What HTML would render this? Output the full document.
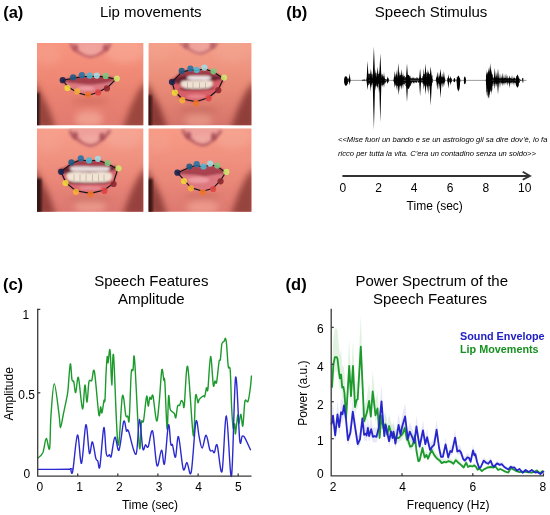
<!DOCTYPE html>
<html><head><meta charset="utf-8"><title>Figure</title>
<style>
html,body{margin:0;padding:0;background:#fff;}
svg{display:block;font-family:"Liberation Sans",Arial,Helvetica,sans-serif;}
</style></head>
<body>
<svg width="550" height="515" viewBox="0 0 550 515">
<rect width="550" height="515" fill="#fff"/>
<defs>
<filter id="blurBig" x="-30%" y="-30%" width="160%" height="160%"><feGaussianBlur stdDeviation="3"/></filter>
<filter id="blurMid" x="-30%" y="-30%" width="160%" height="160%"><feGaussianBlur stdDeviation="1.4"/></filter>
<filter id="blurSmall" x="-20%" y="-20%" width="140%" height="140%"><feGaussianBlur stdDeviation="0.8"/></filter>
<filter id="blurTiny" x="-50%" y="-20%" width="200%" height="140%"><feGaussianBlur stdDeviation="0.4"/></filter>
<linearGradient id="skin0" x1="0" y1="0" x2="0" y2="1"><stop offset="0" stop-color="#f89680"/><stop offset="0.55" stop-color="#ec8472"/><stop offset="1" stop-color="#e07a70"/></linearGradient>
<linearGradient id="skin1" x1="0" y1="0" x2="0" y2="1"><stop offset="0" stop-color="#f6a08a"/><stop offset="0.55" stop-color="#e88a76"/><stop offset="1" stop-color="#d4726a"/></linearGradient>
<linearGradient id="skin2" x1="0" y1="0" x2="0" y2="1"><stop offset="0" stop-color="#f8a08c"/><stop offset="0.55" stop-color="#ec8a7a"/><stop offset="1" stop-color="#da7670"/></linearGradient>
<linearGradient id="skin3" x1="0" y1="0" x2="0" y2="1"><stop offset="0" stop-color="#f89c86"/><stop offset="0.55" stop-color="#ec8a7a"/><stop offset="1" stop-color="#dc7870"/></linearGradient>
</defs>
<clipPath id="clip0"><rect x="37" y="43" width="106.3" height="82.3"/></clipPath>
<g clip-path="url(#clip0)">
<g transform="translate(37 43)">
<rect x="-2" y="-2" width="110.3" height="86.3" fill="url(#skin0)"/>
<g filter="url(#blurBig)"><path d="M-4.0 37.0 L4.0 49.4 L12.0 65.8 L19.0 86.3 L-4.0 86.3 Z" fill="#944038" opacity="0.95"/><path d="M110.3 37.0 L101.3 47.7 L93.3 64.2 L85.3 86.3 L110.3 86.3 Z" fill="#944038" opacity="0.9"/><ellipse cx="88" cy="8" rx="20" ry="12" fill="#f8b4a2" opacity="0.45"/><ellipse cx="52" cy="76" rx="14" ry="8" fill="#f8b4a2" opacity="0.6"/><ellipse cx="10" cy="12" rx="14" ry="10" fill="#f8b4a2" opacity="0.25"/><ellipse cx="53" cy="58" rx="20" ry="3.5" fill="#c0604e" opacity="0.45"/></g>
<path d="M33.4 -10 L33.4 0  C34.1 1.1 34.1 4.2 37.5 6.5 C40.9 8.8 48.2 13.6 53.5 13.6 C58.8 13.6 66.2 8.8 69.5 6.5 C72.8 4.2 72.6 1.1 73.2 0.0 L73.2 -10 Z" fill="#f0a09a" filter="url(#blurMid)"/>
<path d="M33.4 0.0 C34.1 1.1 34.1 4.2 37.5 6.5 C40.9 8.8 48.2 13.6 53.5 13.6 C58.8 13.6 66.2 8.8 69.5 6.5 C72.8 4.2 72.6 1.1 73.2 0.0" stroke="#b0505c" stroke-width="2.6" fill="none" filter="url(#blurMid)" opacity="0.85"/>
<ellipse cx="53.5" cy="7.6" rx="9" ry="5" fill="#f2aca6" filter="url(#blurMid)" opacity="0.4"/>
<ellipse cx="38.5" cy="4.5" rx="2.6" ry="3.6" fill="#b0505c" filter="url(#blurMid)" opacity="0.85"/>
<ellipse cx="68.5" cy="4.5" rx="2.6" ry="3.6" fill="#b0505c" filter="url(#blurMid)" opacity="0.85"/>
<path d="M31.4 8.5 Q19.5 23.799999999999997 20.5 45.8" stroke="#c0604e" stroke-width="3" fill="none" opacity="0.0" filter="url(#blurMid)"/>
<path d="M75.2 8.5 Q85.5 22 84.5 44" stroke="#c0604e" stroke-width="3" fill="none" opacity="0.0" filter="url(#blurMid)"/>
<g filter="url(#blurSmall)"><path d="M25.5 37.8 C26.3 36.2 31.8 35.4 35.0 34.6 C38.2 33.8 41.6 33.3 44.5 33.2 C47.4 33.1 49.9 34.0 52.5 34.0 C55.1 34.0 57.2 33.5 60.0 33.4 C62.8 33.3 65.8 33.2 69.0 33.6 C72.2 34.0 79.2 34.1 79.5 36.0 C79.8 37.9 74.1 42.7 71.0 45.0 C67.9 47.3 64.3 48.8 61.0 50.0 C57.7 51.2 54.5 52.3 51.0 52.2 C47.5 52.1 43.5 50.9 40.0 49.5 C36.5 48.1 32.4 46.0 30.0 44.0 C27.6 42.0 24.7 39.4 25.5 37.8 Z" fill="#dc7880"/><path d="M25.5 37.8 C25.5 37.0 31.8 35.4 35.0 34.6 C38.2 33.8 41.6 33.3 44.5 33.2 C47.4 33.1 49.9 34.0 52.5 34.0 C55.1 34.0 57.2 33.5 60.0 33.4 C62.8 33.3 65.8 33.2 69.0 33.6 C72.2 34.0 79.5 35.1 79.5 36.0 C79.5 36.9 73.5 38.2 69.0 39.0 C64.5 39.8 58.2 40.8 52.5 40.8 C46.8 40.8 39.5 39.7 35.0 39.2 C30.5 38.7 25.5 38.6 25.5 37.8 Z" fill="#a63e4c"/><path d="M25.5 37.8 C27.1 38.0 30.5 38.7 35.0 39.2 C39.5 39.7 46.8 40.8 52.5 40.8 C58.2 40.8 64.5 39.8 69.0 39.0 C73.5 38.2 77.8 36.5 79.5 36.0" stroke="#9a3c48" stroke-width="1.4" fill="none"/><ellipse cx="49" cy="45.5" rx="9" ry="2.2" fill="#f4aab0" opacity="0.7"/></g>
<rect x="-2" y="50" width="4.4" height="82.3" fill="#2a1414" filter="url(#blurSmall)"/>
<path d="M25.7 37.2 L36.5 35.2 L45.0 33.8 L52.7 33.4 L59.8 33.4 L68.5 33.9 L78.8 36.3 L71.0 44.0 L61.0 49.2 L51.0 52.6 L40.5 49.8 L30.5 43.5 Z" fill="none" stroke="#121212" stroke-width="1.1" stroke-linejoin="round"/>
<circle cx="25.7" cy="37.2" r="3.1" fill="#18224e" fill-opacity="0.9"/>
<circle cx="36.1" cy="34.3" r="3.1" fill="#1e5a84" fill-opacity="0.9"/>
<circle cx="44.9" cy="32.2" r="3.1" fill="#2872a4" fill-opacity="0.9"/>
<circle cx="52.7" cy="32.6" r="3.1" fill="#50b6d2" fill-opacity="0.9"/>
<circle cx="59.8" cy="32.6" r="3.1" fill="#a2dce6" fill-opacity="0.9"/>
<circle cx="68.7" cy="32.9" r="3.1" fill="#80c882" fill-opacity="0.9"/>
<circle cx="79.8" cy="35.5" r="3.1" fill="#d4e870" fill-opacity="0.9"/>
<circle cx="69.9" cy="45.4" r="3.1" fill="#8e2830" fill-opacity="0.9"/>
<circle cx="61.2" cy="49.4" r="3.1" fill="#e04444" fill-opacity="0.9"/>
<circle cx="51.0" cy="51.5" r="3.1" fill="#f07428" fill-opacity="0.9"/>
<circle cx="40.2" cy="48.3" r="3.1" fill="#f6b036" fill-opacity="0.9"/>
<circle cx="30.5" cy="45.0" r="3.1" fill="#f2d838" fill-opacity="0.9"/>
</g></g>
<clipPath id="clip1"><rect x="148.6" y="43" width="102.8" height="82.3"/></clipPath>
<g clip-path="url(#clip1)">
<g transform="translate(148.6 43)">
<rect x="-2" y="-2" width="106.8" height="86.3" fill="url(#skin1)"/>
<g filter="url(#blurBig)"><path d="M-4.0 37.0 L4.0 49.4 L12.0 65.8 L19.0 86.3 L-4.0 86.3 Z" fill="#883634" opacity="0.95"/><path d="M106.8 37.0 L97.8 47.7 L89.8 64.2 L81.8 86.3 L106.8 86.3 Z" fill="#883634" opacity="0.9"/><ellipse cx="84" cy="8" rx="18" ry="12" fill="#f0a896" opacity="0.4"/><ellipse cx="50" cy="78" rx="14" ry="7" fill="#f0a896" opacity="0.55"/><ellipse cx="10" cy="10" rx="12" ry="10" fill="#f0a896" opacity="0.2"/><ellipse cx="50" cy="67" rx="20" ry="3.5" fill="#b0564a" opacity="0.4"/></g>
<path d="M31.2 -11 L31.2 -1  C32.1 -0.2 33.3 1.9 36.7 3.8 C40.1 5.7 46.7 10.4 51.4 10.4 C56.1 10.4 62.0 5.7 65.0 3.8 C68.0 1.9 68.7 -0.2 69.4 -1.0 L69.4 -11 Z" fill="#eea098" filter="url(#blurMid)"/>
<path d="M31.2 -1.0 C32.1 -0.2 33.3 1.9 36.7 3.8 C40.1 5.7 46.7 10.4 51.4 10.4 C56.1 10.4 62.0 5.7 65.0 3.8 C68.0 1.9 68.7 -0.2 69.4 -1.0" stroke="#b25a64" stroke-width="2.2" fill="none" filter="url(#blurMid)" opacity="0.85"/>
<ellipse cx="51.4" cy="4.4" rx="9" ry="5" fill="#f0a8a0" filter="url(#blurMid)" opacity="0.4"/>
<ellipse cx="37.7" cy="1.7999999999999998" rx="2.6" ry="3.6" fill="#b25a64" filter="url(#blurMid)" opacity="0.85"/>
<ellipse cx="64.0" cy="1.7999999999999998" rx="2.6" ry="3.6" fill="#b25a64" filter="url(#blurMid)" opacity="0.85"/>
<path d="M29.2 5.8 Q16.9 25.5 17.9 47.5" stroke="#b0564a" stroke-width="3" fill="none" opacity="0.0" filter="url(#blurMid)"/>
<path d="M71.4 5.8 Q81.4 21.5 80.4 43.5" stroke="#b0564a" stroke-width="3" fill="none" opacity="0.0" filter="url(#blurMid)"/>
<g filter="url(#blurSmall)"><path d="M22.9 39.5 C23.9 36.2 28.8 31.6 31.9 29.5 C35.0 27.4 38.6 27.2 41.4 27.0 C44.1 26.8 46.0 28.3 48.4 28.2 C50.8 28.1 53.1 26.3 55.9 26.5 C58.7 26.7 62.2 28.0 65.4 29.5 C68.7 31.0 74.7 32.7 75.4 35.5 C76.2 38.3 72.5 43.2 69.9 46.5 C67.3 49.8 63.6 52.8 59.9 55.0 C56.1 57.2 51.8 59.2 47.4 59.5 C43.0 59.8 37.0 58.2 33.4 56.5 C29.8 54.8 27.6 51.8 25.9 49.0 C24.1 46.2 21.9 42.8 22.9 39.5 Z" fill="#d85e68"/><path d="M22.9 39.5 C23.0 38.9 28.8 31.6 31.9 29.5 C35.0 27.4 38.6 27.2 41.4 27.0 C44.1 26.8 46.0 28.3 48.4 28.2 C50.8 28.1 53.1 26.3 55.9 26.5 C58.7 26.7 62.2 28.0 65.4 29.5 C68.7 31.0 75.4 34.9 75.4 35.5 C75.4 36.1 69.9 33.5 65.4 33.0 C60.9 32.5 54.1 32.5 48.4 32.5 C42.7 32.5 35.6 32.0 31.4 33.2 C27.1 34.4 22.8 40.1 22.9 39.5 Z" fill="#a03a48"/><path d="M22.9 39.5 C17.2 37.6 27.1 34.4 31.4 33.2 C35.6 32.0 42.7 32.5 48.4 32.5 C54.1 32.5 60.9 32.5 65.4 33.0 C69.9 33.5 81.1 33.4 75.4 35.5 C69.7 37.6 35.9 43.5 31.4 45.5 C26.9 47.5 42.7 47.7 48.4 47.5 C54.1 47.3 69.7 45.8 65.4 44.5 C61.2 43.2 28.6 41.4 22.9 39.5 Z" fill="#6c2232"/><path d="M39.4 33.4 C41.1 32.8 46.7 32.8 50.4 32.8 C54.1 32.8 59.6 32.8 61.4 33.4 C63.1 34.0 62.7 35.8 60.9 36.4 C59.1 37.0 53.9 37.0 50.4 37.0 C46.9 37.0 41.7 37.0 39.9 36.4 C38.1 35.8 37.6 34.0 39.4 33.4 Z" fill="#eae0e0"/><path d="M33.4 38.2 C35.5 37.0 42.5 37.6 47.4 37.6 C52.3 37.6 60.6 36.8 62.9 38.0 C65.2 39.2 64.0 43.3 61.4 44.6 C58.8 45.9 51.8 45.8 47.4 45.8 C43.0 45.8 37.2 45.9 34.9 44.6 C32.6 43.3 31.3 39.4 33.4 38.2 Z" fill="#eee2d4"/><ellipse cx="48" cy="53.5" rx="10" ry="2.2" fill="#f0a4aa" opacity="0.55"/></g>
<path d="M38.900000000000006 39.5 V45" stroke="#a88078" stroke-width="0.8" opacity="0.55"/>
<path d="M44.400000000000006 39.5 V45" stroke="#a88078" stroke-width="0.8" opacity="0.55"/>
<path d="M50.900000000000006 39.5 V45" stroke="#a88078" stroke-width="0.8" opacity="0.55"/>
<path d="M56.900000000000006 39.5 V45" stroke="#a88078" stroke-width="0.8" opacity="0.55"/>
<rect x="-2" y="52" width="5" height="82.3" fill="#361818" filter="url(#blurSmall)"/>
<path d="M23.4 39.1 L33.1 29.2 L41.8 26.9 L48.1 27.5 L55.8 25.8 L64.9 29.0 L74.9 35.5 L69.7 46.5 L60.1 54.5 L47.5 58.8 L33.7 56.0 L26.3 48.5 Z" fill="none" stroke="#121212" stroke-width="1.1" stroke-linejoin="round"/>
<circle cx="23.4" cy="39.1" r="3.1" fill="#18224e" fill-opacity="0.9"/>
<circle cx="33.1" cy="27.9" r="3.1" fill="#1e5a84" fill-opacity="0.9"/>
<circle cx="41.8" cy="25.6" r="3.1" fill="#2872a4" fill-opacity="0.9"/>
<circle cx="48.1" cy="26.9" r="3.1" fill="#50b6d2" fill-opacity="0.9"/>
<circle cx="55.8" cy="24.6" r="3.1" fill="#a2dce6" fill-opacity="0.9"/>
<circle cx="64.9" cy="28.3" r="3.1" fill="#80c882" fill-opacity="0.9"/>
<circle cx="75.5" cy="34.6" r="3.1" fill="#d4e870" fill-opacity="0.9"/>
<circle cx="69.7" cy="47.2" r="3.1" fill="#8e2830" fill-opacity="0.9"/>
<circle cx="60.1" cy="55.3" r="3.1" fill="#e04444" fill-opacity="0.9"/>
<circle cx="47.5" cy="60.3" r="3.1" fill="#f07428" fill-opacity="0.9"/>
<circle cx="33.7" cy="57.2" r="3.1" fill="#f6b036" fill-opacity="0.9"/>
<circle cx="26.3" cy="49.7" r="3.1" fill="#f2d838" fill-opacity="0.9"/>
</g></g>
<clipPath id="clip2"><rect x="37" y="128.6" width="106.3" height="83.1"/></clipPath>
<g clip-path="url(#clip2)">
<g transform="translate(37 128.6)">
<rect x="-2" y="-2" width="110.3" height="87.1" fill="url(#skin2)"/>
<g filter="url(#blurBig)"><path d="M-4.0 37.4 L4.0 49.9 L12.0 66.5 L19.0 87.1 L-4.0 87.1 Z" fill="#8e3c36" opacity="0.95"/><path d="M110.3 37.4 L101.3 48.2 L93.3 64.8 L85.3 87.1 L110.3 87.1 Z" fill="#8e3c36" opacity="0.9"/><ellipse cx="86" cy="8" rx="18" ry="12" fill="#f6b0a0" opacity="0.4"/><ellipse cx="53" cy="78" rx="16" ry="7" fill="#f6b0a0" opacity="0.55"/><ellipse cx="12" cy="14" rx="12" ry="10" fill="#f6b0a0" opacity="0.2"/><ellipse cx="53" cy="71" rx="22" ry="3.5" fill="#b45a4c" opacity="0.4"/></g>
<path d="M32.8 -8.1 L32.8 1.9  C33.5 3.0 33.8 6.2 37.2 8.7 C40.7 11.2 48.7 16.6 53.5 16.8 C58.3 17.0 62.8 12.3 66.1 9.8 C69.4 7.3 72.0 3.2 73.2 1.9 L73.2 -8.1 Z" fill="#eea09a" filter="url(#blurMid)"/>
<path d="M32.8 1.9 C33.5 3.0 33.8 6.2 37.2 8.7 C40.7 11.2 48.7 16.6 53.5 16.8 C58.3 17.0 62.8 12.3 66.1 9.8 C69.4 7.3 72.0 3.2 73.2 1.9" stroke="#a44a56" stroke-width="2.6" fill="none" filter="url(#blurMid)" opacity="0.85"/>
<ellipse cx="53.5" cy="10.8" rx="9" ry="5" fill="#f4b4ac" filter="url(#blurMid)" opacity="0.4"/>
<ellipse cx="38.2" cy="6.699999999999999" rx="2.6" ry="3.6" fill="#a44a56" filter="url(#blurMid)" opacity="0.85"/>
<ellipse cx="65.1" cy="7.800000000000001" rx="2.6" ry="3.6" fill="#a44a56" filter="url(#blurMid)" opacity="0.85"/>
<path d="M30.799999999999997 10.7 Q17.5 29.6 18.5 51.6" stroke="#b45a4c" stroke-width="3" fill="none" opacity="0.0" filter="url(#blurMid)"/>
<path d="M75.2 11.8 Q87 26.200000000000003 86 48.2" stroke="#b45a4c" stroke-width="3" fill="none" opacity="0.0" filter="url(#blurMid)"/>
<g filter="url(#blurSmall)"><path d="M23.5 43.6 C24.3 40.5 30.2 37.1 33.5 35.0 C36.8 32.9 40.4 31.6 43.5 31.2 C46.6 30.8 49.1 32.8 52.0 32.8 C54.9 32.8 57.8 31.0 61.0 31.4 C64.2 31.8 67.7 33.9 71.0 35.4 C74.3 36.9 80.1 37.0 81.0 40.2 C81.9 43.5 78.8 51.3 76.5 54.9 C74.2 58.5 70.8 60.1 67.0 61.9 C63.2 63.6 58.2 65.2 53.5 65.4 C48.8 65.6 43.2 64.8 39.0 62.9 C34.8 61.0 31.1 57.1 28.5 53.9 C25.9 50.7 22.7 46.8 23.5 43.6 Z" fill="#d86870"/><path d="M23.5 43.6 C23.6 43.1 30.2 37.1 33.5 35.0 C36.8 32.9 40.4 31.6 43.5 31.2 C46.6 30.8 49.1 32.8 52.0 32.8 C54.9 32.8 57.8 31.0 61.0 31.4 C64.2 31.8 67.7 33.9 71.0 35.4 C74.3 36.9 80.8 39.8 81.0 40.2 C81.2 40.6 76.8 38.4 72.0 37.9 C67.2 37.4 58.5 37.4 52.0 37.4 C45.5 37.4 37.8 36.9 33.0 37.9 C28.2 38.9 23.4 44.1 23.5 43.6 Z" fill="#a63e4c"/><path d="M23.5 43.6 C16.8 41.0 28.2 38.9 33.0 37.9 C37.8 36.9 45.5 37.4 52.0 37.4 C58.5 37.4 67.2 37.4 72.0 37.9 C76.8 38.4 87.8 37.6 81.0 40.2 C74.2 42.8 35.8 50.9 31.0 53.4 C26.2 55.9 45.0 55.4 52.0 55.4 C59.0 55.4 77.8 55.4 73.0 53.4 C68.2 51.4 30.2 46.2 23.5 43.6 Z" fill="#6e2434"/><path d="M35.0 38.2 C37.9 37.4 47.0 37.8 53.0 37.8 C59.0 37.8 68.1 37.6 71.0 38.4 C73.9 39.2 73.5 41.6 70.5 42.4 C67.5 43.2 58.8 43.0 53.0 43.0 C47.2 43.0 38.5 43.2 35.5 42.4 C32.5 41.6 32.1 39.0 35.0 38.2 Z" fill="#e6dcdc"/><path d="M31.5 44.2 C34.7 42.8 45.1 43.8 52.0 43.8 C58.9 43.8 69.7 42.8 73.0 44.2 C76.3 45.6 75.5 50.8 72.0 52.4 C68.5 54.0 58.5 53.8 52.0 53.8 C45.5 53.8 36.4 54.0 33.0 52.4 C29.6 50.8 28.3 45.6 31.5 44.2 Z" fill="#f0e4d4"/><ellipse cx="53" cy="59.5" rx="12" ry="2.2" fill="#f2a8ae" opacity="0.55"/></g>
<path d="M37 45.900000000000006 V52.400000000000006" stroke="#a88078" stroke-width="0.8" opacity="0.55"/>
<path d="M43 45.900000000000006 V52.400000000000006" stroke="#a88078" stroke-width="0.8" opacity="0.55"/>
<path d="M49 45.900000000000006 V52.400000000000006" stroke="#a88078" stroke-width="0.8" opacity="0.55"/>
<path d="M55.5 45.900000000000006 V52.400000000000006" stroke="#a88078" stroke-width="0.8" opacity="0.55"/>
<path d="M61.5 45.900000000000006 V52.400000000000006" stroke="#a88078" stroke-width="0.8" opacity="0.55"/>
<path d="M67 45.900000000000006 V52.400000000000006" stroke="#a88078" stroke-width="0.8" opacity="0.55"/>
<rect x="-2" y="50" width="6.5" height="83.1" fill="#341618" filter="url(#blurSmall)"/>
<path d="M24.1 43.2 L34.4 35.0 L43.8 31.2 L52.0 32.6 L60.9 31.4 L70.7 35.4 L80.8 40.4 L76.2 54.8 L67.4 61.4 L53.6 64.8 L38.9 62.2 L28.8 53.9 Z" fill="none" stroke="#121212" stroke-width="1.1" stroke-linejoin="round"/>
<circle cx="24.1" cy="43.2" r="3.1" fill="#18224e" fill-opacity="0.9"/>
<circle cx="34.4" cy="33.8" r="3.1" fill="#1e5a84" fill-opacity="0.9"/>
<circle cx="43.8" cy="29.8" r="3.1" fill="#2872a4" fill-opacity="0.9"/>
<circle cx="52.0" cy="31.8" r="3.1" fill="#50b6d2" fill-opacity="0.9"/>
<circle cx="60.9" cy="30.2" r="3.1" fill="#a2dce6" fill-opacity="0.9"/>
<circle cx="70.7" cy="34.4" r="3.1" fill="#80c882" fill-opacity="0.9"/>
<circle cx="81.5" cy="39.7" r="3.1" fill="#d4e870" fill-opacity="0.9"/>
<circle cx="76.6" cy="55.4" r="3.1" fill="#8e2830" fill-opacity="0.9"/>
<circle cx="67.4" cy="62.3" r="3.1" fill="#e04444" fill-opacity="0.9"/>
<circle cx="53.6" cy="65.6" r="3.1" fill="#f07428" fill-opacity="0.9"/>
<circle cx="38.9" cy="63.2" r="3.1" fill="#f6b036" fill-opacity="0.9"/>
<circle cx="28.5" cy="54.4" r="3.1" fill="#f2d838" fill-opacity="0.9"/>
</g></g>
<clipPath id="clip3"><rect x="148.6" y="128.6" width="102.8" height="83.1"/></clipPath>
<g clip-path="url(#clip3)">
<g transform="translate(148.6 128.6)">
<rect x="-2" y="-2" width="106.8" height="87.1" fill="url(#skin3)"/>
<g filter="url(#blurBig)"><path d="M-4.0 37.4 L4.0 49.9 L12.0 66.5 L19.0 87.1 L-4.0 87.1 Z" fill="#8e3e38" opacity="0.95"/><path d="M106.8 37.4 L97.8 48.2 L89.8 64.8 L81.8 87.1 L106.8 87.1 Z" fill="#8e3e38" opacity="0.9"/><ellipse cx="84" cy="8" rx="18" ry="12" fill="#f6b0a0" opacity="0.4"/><ellipse cx="54" cy="79" rx="16" ry="7" fill="#f6b0a0" opacity="0.55"/><ellipse cx="10" cy="14" rx="12" ry="10" fill="#f6b0a0" opacity="0.2"/><ellipse cx="54" cy="68" rx="18" ry="3.5" fill="#b45a4c" opacity="0.4"/></g>
<path d="M33.9 -9.1 L33.9 0.9  C34.7 2.2 35.4 6.1 38.8 8.7 C42.2 11.3 49.6 16.1 54.1 16.3 C58.6 16.5 63.0 12.2 66.1 9.8 C69.2 7.4 71.6 3.2 72.7 1.9 L72.7 -8.1 Z" fill="#eea09a" filter="url(#blurMid)"/>
<path d="M33.9 0.9 C34.7 2.2 35.4 6.1 38.8 8.7 C42.2 11.3 49.6 16.1 54.1 16.3 C58.6 16.5 63.0 12.2 66.1 9.8 C69.2 7.4 71.6 3.2 72.7 1.9" stroke="#a44a56" stroke-width="2.6" fill="none" filter="url(#blurMid)" opacity="0.85"/>
<ellipse cx="54.1" cy="10.3" rx="9" ry="5" fill="#f4b4ac" filter="url(#blurMid)" opacity="0.4"/>
<ellipse cx="39.8" cy="6.699999999999999" rx="2.6" ry="3.6" fill="#a44a56" filter="url(#blurMid)" opacity="0.85"/>
<ellipse cx="65.1" cy="7.800000000000001" rx="2.6" ry="3.6" fill="#a44a56" filter="url(#blurMid)" opacity="0.85"/>
<path d="M31.9 10.7 Q22.4 30.6 23.4 52.6" stroke="#b45a4c" stroke-width="3" fill="none" opacity="0.0" filter="url(#blurMid)"/>
<path d="M74.7 11.8 Q83.4 29.9 82.4 51.9" stroke="#b45a4c" stroke-width="3" fill="none" opacity="0.0" filter="url(#blurMid)"/>
<g filter="url(#blurSmall)"><path d="M28.4 44.6 C29.2 42.4 37.1 40.3 40.4 39.0 C43.6 37.7 45.5 36.8 47.9 36.8 C50.3 36.8 52.6 38.9 54.9 38.8 C57.2 38.7 59.6 36.5 61.9 36.4 C64.2 36.3 66.3 36.8 68.9 38.0 C71.5 39.2 76.9 41.5 77.4 43.9 C77.9 46.3 74.1 49.7 71.9 52.4 C69.7 55.1 67.3 58.2 64.4 60.0 C61.5 61.8 58.1 63.1 54.4 63.0 C50.7 62.9 45.5 61.2 42.4 59.4 C39.3 57.6 38.0 54.5 35.7 52.0 C33.4 49.5 27.6 46.8 28.4 44.6 Z" fill="#de7880"/><path d="M28.4 44.6 C27.6 43.6 37.1 40.3 40.4 39.0 C43.6 37.7 45.5 36.8 47.9 36.8 C50.3 36.8 52.6 38.9 54.9 38.8 C57.2 38.7 59.6 36.5 61.9 36.4 C64.2 36.3 66.3 36.8 68.9 38.0 C71.5 39.2 77.2 42.8 77.4 43.9 C77.7 45.0 73.8 43.9 70.4 44.4 C67.0 44.9 61.1 46.6 56.9 46.7 C52.7 46.8 49.8 45.6 45.0 45.2 C40.2 44.9 29.2 45.6 28.4 44.6 Z" fill="#aa4250"/><path d="M28.4 44.6 C31.2 44.7 40.2 44.9 45.0 45.2 C49.8 45.6 52.7 46.8 56.9 46.7 C61.1 46.6 67.0 44.9 70.4 44.4 C73.8 43.9 76.2 44.0 77.4 43.9" stroke="#963a48" stroke-width="1.4" fill="none"/><ellipse cx="50" cy="51.5" rx="11" ry="3" fill="#f6b0b6" opacity="0.6"/></g>
<rect x="-2" y="50" width="6" height="83.1" fill="#381818" filter="url(#blurSmall)"/>
<path d="M28.8 44.1 L40.8 39.0 L48.1 36.7 L54.9 38.6 L61.6 36.1 L68.7 37.8 L77.0 43.9 L71.8 52.0 L64.5 59.6 L54.3 62.7 L42.3 59.0 L35.8 51.8 Z" fill="none" stroke="#121212" stroke-width="1.1" stroke-linejoin="round"/>
<circle cx="28.8" cy="44.1" r="3.1" fill="#18224e" fill-opacity="0.9"/>
<circle cx="40.8" cy="37.9" r="3.1" fill="#1e5a84" fill-opacity="0.9"/>
<circle cx="48.1" cy="35.6" r="3.1" fill="#2872a4" fill-opacity="0.9"/>
<circle cx="54.9" cy="37.9" r="3.1" fill="#50b6d2" fill-opacity="0.9"/>
<circle cx="61.6" cy="35.0" r="3.1" fill="#a2dce6" fill-opacity="0.9"/>
<circle cx="68.7" cy="36.9" r="3.1" fill="#80c882" fill-opacity="0.9"/>
<circle cx="77.8" cy="43.3" r="3.1" fill="#d4e870" fill-opacity="0.9"/>
<circle cx="72.0" cy="52.7" r="3.1" fill="#8e2830" fill-opacity="0.9"/>
<circle cx="64.5" cy="60.4" r="3.1" fill="#e04444" fill-opacity="0.9"/>
<circle cx="54.3" cy="63.5" r="3.1" fill="#f07428" fill-opacity="0.9"/>
<circle cx="42.3" cy="59.7" r="3.1" fill="#f6b036" fill-opacity="0.9"/>
<circle cx="35.4" cy="52.4" r="3.1" fill="#f2d838" fill-opacity="0.9"/>
</g></g>
<defs><filter id="wblur" x="-5%" y="-5%" width="110%" height="110%"><feGaussianBlur stdDeviation="0.3"/></filter></defs>
<g filter="url(#wblur)"><path d="M344.75 78.5 V82.9 M345.20 76.7 V83.5 M345.65 77.4 V84.5 M346.10 78.5 V84.1 M346.55 77.0 V85.2 M347.00 78.9 V83.0 M347.45 79.1 V84.1 M347.90 77.9 V81.3 M348.35 78.9 V81.8 M348.80 79.6 V81.1 M349.25 79.5 V81.0 M349.70 78.9 V81.1 M350.15 80.1 V80.6 M362.30 80.1 V80.8 M362.75 79.8 V81.0 M363.20 79.7 V80.9 M363.65 79.8 V80.9 M364.10 79.8 V80.7 M364.55 79.5 V81.1 M365.00 79.6 V81.0 M366.80 79.3 V81.0 M367.25 77.7 V81.7 M367.70 75.3 V83.0 M368.15 74.5 V83.1 M368.60 73.6 V85.0 M369.05 78.6 V82.6 M369.50 73.9 V83.7 M369.95 73.6 V83.4 M370.40 78.1 V84.3 M370.85 74.7 V82.9 M371.30 78.1 V83.1 M371.75 74.1 V84.7 M372.20 78.0 V82.8 M372.65 78.0 V82.0 M373.10 74.4 V82.7 M373.55 75.4 V84.0 M374.00 77.2 V85.4 M374.45 77.6 V85.1 M374.90 77.6 V84.1 M375.35 77.0 V83.4 M375.80 72.9 V85.9 M376.25 76.5 V86.3 M376.70 77.0 V84.1 M377.15 73.6 V85.2 M377.60 77.8 V86.8 M378.05 77.1 V83.4 M378.50 74.0 V83.7 M378.95 76.6 V82.4 M379.40 77.8 V84.8 M379.85 76.8 V84.9 M380.30 76.2 V84.1 M380.75 73.3 V84.2 M381.20 75.4 V85.6 M381.65 77.5 V82.5 M382.10 74.2 V85.1 M382.55 77.5 V82.5 M383.00 75.9 V85.0 M383.45 78.2 V84.7 M383.90 76.3 V83.4 M384.35 78.1 V81.6 M384.80 79.4 V83.6 M385.25 79.2 V82.6 M385.70 79.4 V82.3 M386.15 79.4 V81.1 M386.60 79.9 V81.4 M387.05 79.6 V81.4 M387.50 78.5 V83.1 M387.95 78.4 V81.8 M388.40 79.6 V80.7 M393.80 79.8 V81.2 M394.25 77.4 V81.8 M394.70 78.2 V83.1 M395.15 76.5 V82.3 M395.60 77.2 V85.4 M396.05 74.5 V84.7 M396.50 75.6 V84.5 M396.95 78.0 V82.0 M397.40 78.7 V85.9 M397.85 75.4 V86.1 M398.30 78.6 V84.8 M398.75 76.3 V85.2 M399.20 77.1 V86.4 M399.65 78.3 V84.4 M400.10 75.3 V85.9 M400.55 75.4 V85.0 M401.00 75.2 V85.8 M401.45 77.1 V84.9 M401.90 74.9 V85.6 M402.35 77.0 V85.1 M402.80 75.4 V84.1 M403.25 76.4 V83.3 M403.70 76.7 V84.0 M404.15 78.7 V84.0 M404.60 75.8 V84.5 M405.05 77.2 V82.4 M405.50 77.4 V83.0 M405.95 77.2 V86.1 M406.40 78.4 V86.5 M406.85 78.6 V86.3 M407.30 76.1 V84.4 M407.75 75.0 V86.4 M408.20 75.7 V89.0 M408.65 77.5 V82.7 M409.10 77.4 V87.1 M409.55 78.1 V83.4 M410.00 75.9 V85.5 M410.45 77.7 V85.7 M410.90 78.3 V84.2 M411.35 78.9 V82.8 M411.80 77.8 V83.4 M412.25 77.7 V82.0 M412.70 78.3 V81.9 M413.15 79.2 V82.3 M413.60 77.6 V83.1 M414.05 77.8 V83.3 M414.50 78.8 V81.6 M414.95 78.4 V81.8 M415.40 78.9 V82.2 M415.85 78.0 V82.3 M416.30 78.7 V83.0 M416.75 77.4 V82.1 M417.20 79.4 V81.1 M417.65 77.8 V81.1 M418.10 78.2 V82.2 M418.55 78.8 V82.8 M419.00 79.4 V81.5 M419.45 78.3 V81.2 M419.90 77.5 V81.7 M420.35 79.1 V81.2 M420.80 78.0 V82.2 M421.25 78.2 V82.4 M421.70 78.5 V82.3 M422.15 78.1 V81.4 M422.60 76.3 V82.4 M423.05 78.5 V83.9 M423.50 74.4 V82.8 M423.95 76.5 V83.8 M424.40 74.0 V84.7 M424.85 74.4 V85.8 M425.30 75.7 V86.0 M425.75 72.7 V82.5 M426.20 72.5 V85.7 M426.65 77.3 V84.4 M427.10 74.2 V86.6 M427.55 75.7 V85.0 M428.00 72.9 V86.0 M428.45 72.6 V84.4 M428.90 74.2 V83.1 M429.35 73.9 V86.0 M429.80 74.4 V85.6 M430.25 77.0 V86.2 M430.70 73.3 V86.3 M431.15 75.8 V85.3 M431.60 77.1 V85.5 M432.05 75.4 V83.0 M432.50 79.5 V81.6 M436.10 79.6 V81.1 M436.55 77.9 V81.3 M437.00 77.0 V81.4 M437.45 77.0 V81.7 M437.90 78.2 V83.4 M438.35 78.8 V81.7 M438.80 77.6 V83.3 M439.25 76.7 V83.2 M439.70 76.4 V82.7 M440.15 76.4 V81.5 M440.60 78.5 V82.8 M441.05 78.3 V83.3 M441.50 77.3 V82.8 M441.95 76.7 V82.9 M442.40 78.3 V82.3 M442.85 77.0 V83.5 M443.30 78.8 V83.3 M443.75 76.9 V82.4 M444.20 78.0 V81.6 M444.65 78.3 V82.1 M445.10 79.7 V80.5 M447.80 78.2 V81.7 M448.25 79.1 V82.1 M448.70 78.8 V81.7 M449.15 78.6 V81.0 M449.60 78.9 V81.5 M450.05 78.3 V82.3 M450.50 79.3 V81.6 M450.95 79.5 V81.6 M451.40 78.5 V82.3 M451.85 79.8 V80.7 M454.10 79.4 V81.8 M454.55 78.3 V81.1 M455.00 79.3 V80.6 M456.80 79.5 V81.4 M457.25 77.0 V83.1 M457.70 77.8 V85.7 M458.15 78.6 V87.7 M458.60 78.4 V86.9 M459.05 78.3 V83.8 M459.50 77.8 V84.1 M459.95 79.2 V82.2 M464.45 77.8 V82.0 M464.90 78.7 V83.4 M465.35 78.5 V82.1 M486.05 79.5 V81.3 M486.50 74.7 V85.1 M486.95 73.9 V92.1 M487.40 72.6 V87.9 M487.85 75.8 V95.5 M488.30 76.2 V97.6 M488.75 71.6 V86.9 M489.20 76.0 V94.5 M489.65 75.8 V86.2 M490.10 71.9 V90.4 M490.55 72.3 V86.4 M491.00 75.3 V91.8 M491.45 78.2 V85.7 M491.90 74.9 V90.4 M492.35 74.4 V83.5 M492.80 77.0 V86.2 M493.25 77.6 V84.4 M493.70 78.8 V81.6 M494.15 79.1 V81.5 M494.60 77.9 V82.9 M495.05 78.0 V81.8 M495.50 79.0 V81.9 M495.95 77.5 V84.0 M496.40 77.3 V81.5 M496.85 79.3 V83.8 M497.30 78.4 V83.3 M497.75 78.7 V82.5 M498.20 78.4 V82.4 M498.65 78.2 V81.2 M499.10 78.1 V83.4 M499.55 79.2 V82.4 M500.00 78.1 V82.3 M500.45 79.2 V81.6 M500.90 78.5 V81.2 M501.35 77.8 V83.2 M501.80 78.2 V83.3 M502.25 78.3 V82.2 M502.70 78.4 V82.4 M503.15 77.7 V83.1 M503.60 79.1 V83.3 M504.05 78.2 V83.0 M504.50 78.1 V82.1 M504.95 78.0 V83.2 M505.40 78.3 V82.9 M505.85 78.2 V82.1 M506.30 78.3 V81.3 M506.75 79.0 V82.3 M507.20 79.7 V82.0 M507.65 78.4 V82.6 M508.10 79.2 V83.3 M508.55 78.4 V82.0 M509.00 78.4 V82.5 M509.45 78.7 V82.1 M509.90 77.9 V82.7 M510.35 78.4 V82.9 M510.80 77.9 V81.2 M511.25 78.6 V82.9 M511.70 79.2 V82.1 M512.15 79.6 V81.6 M512.60 79.0 V81.4 M513.05 79.2 V83.2 M513.50 78.7 V82.4 M513.95 78.0 V82.5 M514.40 77.9 V82.7 M514.85 78.2 V81.3 M515.30 78.5 V82.9 M515.75 79.5 V83.3 M516.20 78.3 V84.7 M516.65 78.0 V85.5 M517.10 76.1 V82.8 M517.55 74.7 V85.1 M518.00 76.4 V86.2 M518.45 77.8 V83.2 M518.90 77.9 V82.9 M519.35 79.1 V82.7 M519.80 79.4 V80.9 M520.25 79.7 V80.8 M520.70 80.0 V81.0 M522.05 79.9 V81.0 M522.50 78.1 V81.1 M522.95 78.1 V82.5 " stroke="#000" stroke-width="0.75" fill="none"/>
<path d="M344.3 80.3 L344.8 79.2 L345.3 78.9 L345.8 78.7 L346.3 78.7 L346.8 78.7 L347.3 78.9 L347.8 79.1 L348.3 79.7 L348.8 80.0 L349.3 79.5 L349.8 79.5 L350.3 80.2 L350.8 80.2 L351.3 80.2 L351.8 80.2 L352.3 80.2 L352.8 80.2 L353.3 80.2 L353.8 80.2 L354.3 80.2 L354.8 80.2 L355.3 80.2 L355.8 80.2 L356.3 80.2 L356.8 80.2 L357.3 80.2 L357.8 80.2 L358.3 80.2 L358.8 80.2 L359.3 80.2 L359.8 80.2 L360.3 80.2 L360.8 80.2 L361.3 80.2 L361.8 80.2 L362.3 80.0 L362.8 80.0 L363.3 80.0 L363.8 80.0 L364.3 80.0 L364.8 80.0 L365.3 80.1 L365.8 80.2 L366.3 80.2 L366.8 79.6 L367.3 78.4 L367.8 78.1 L368.3 77.9 L368.8 77.8 L369.3 77.8 L369.8 77.8 L370.3 77.9 L370.8 77.9 L371.3 78.0 L371.8 78.0 L372.3 78.0 L372.8 77.9 L373.3 77.8 L373.8 77.7 L374.3 77.6 L374.8 77.6 L375.3 77.6 L375.8 77.6 L376.3 77.6 L376.8 77.6 L377.3 77.6 L377.8 77.6 L378.3 77.6 L378.8 77.6 L379.3 77.6 L379.8 77.6 L380.3 77.6 L380.8 77.7 L381.3 77.8 L381.8 77.9 L382.3 78.0 L382.8 78.3 L383.3 78.5 L383.8 78.7 L384.3 78.9 L384.8 79.2 L385.3 79.4 L385.8 79.7 L386.3 79.9 L386.8 79.8 L387.3 79.3 L387.8 79.3 L388.3 79.9 L388.8 80.2 L389.3 80.2 L389.8 80.2 L390.3 80.2 L390.8 80.2 L391.3 80.2 L391.8 80.2 L392.3 80.2 L392.8 80.2 L393.3 80.2 L393.8 79.7 L394.3 78.6 L394.8 78.5 L395.3 78.3 L395.8 78.2 L396.3 78.2 L396.8 78.1 L397.3 78.1 L397.8 78.1 L398.3 78.1 L398.8 78.0 L399.3 78.0 L399.8 78.1 L400.3 78.1 L400.8 78.1 L401.3 78.2 L401.8 78.2 L402.3 78.3 L402.8 78.3 L403.3 78.4 L403.8 78.5 L404.3 78.6 L404.8 78.8 L405.3 79.1 L405.8 78.7 L406.3 78.3 L406.8 78.1 L407.3 77.9 L407.8 77.9 L408.3 78.0 L408.8 78.2 L409.3 78.3 L409.8 78.5 L410.3 78.7 L410.8 78.9 L411.3 79.1 L411.8 79.2 L412.3 79.3 L412.8 79.3 L413.3 79.2 L413.8 79.2 L414.3 79.2 L414.8 79.2 L415.3 79.2 L415.8 79.2 L416.3 79.2 L416.8 79.2 L417.3 79.3 L417.8 79.3 L418.3 79.3 L418.8 79.2 L419.3 79.2 L419.8 79.2 L420.3 79.2 L420.8 79.2 L421.3 79.3 L421.8 79.6 L422.3 78.9 L422.8 77.9 L423.3 77.7 L423.8 77.5 L424.3 77.4 L424.8 77.4 L425.3 77.4 L425.8 77.4 L426.3 77.4 L426.8 77.3 L427.3 77.3 L427.8 77.4 L428.3 77.4 L428.8 77.4 L429.3 77.4 L429.8 77.4 L430.3 77.6 L430.8 77.8 L431.3 77.9 L431.8 78.1 L432.3 79.0 L432.8 80.2 L433.3 80.2 L433.8 80.2 L434.3 80.2 L434.8 80.2 L435.3 80.2 L435.8 80.2 L436.3 79.5 L436.8 79.0 L437.3 78.9 L437.8 78.9 L438.3 78.9 L438.8 78.8 L439.3 78.8 L439.8 78.8 L440.3 78.8 L440.8 78.8 L441.3 78.8 L441.8 78.9 L442.3 78.9 L442.8 78.9 L443.3 79.0 L443.8 79.1 L444.3 79.1 L444.8 79.5 L445.3 80.2 L445.8 80.2 L446.3 80.2 L446.8 80.2 L447.3 80.2 L447.8 79.5 L448.3 79.5 L448.8 79.5 L449.3 79.5 L449.8 79.5 L450.3 79.5 L450.8 79.5 L451.3 79.5 L451.8 79.9 L452.3 80.2 L452.8 80.2 L453.3 80.2 L453.8 80.2 L454.3 79.5 L454.8 79.5 L455.3 80.2 L455.8 80.2 L456.3 80.2 L456.8 79.6 L457.3 78.8 L457.8 78.6 L458.3 78.5 L458.8 78.6 L459.3 78.9 L459.8 79.4 L460.3 80.1 L460.8 80.2 L461.3 80.2 L461.8 80.2 L462.3 80.2 L462.8 80.2 L463.3 80.2 L463.8 80.2 L464.3 79.0 L464.8 79.0 L465.3 79.3 L465.8 80.2 L466.3 80.2 L466.8 80.2 L467.3 80.2 L467.8 80.2 L468.3 80.2 L468.8 80.2 L469.3 80.2 L469.8 80.2 L470.3 80.2 L470.8 80.2 L471.3 80.2 L471.8 80.2 L472.3 80.2 L472.8 80.2 L473.3 80.2 L473.8 80.2 L474.3 80.2 L474.8 80.2 L475.3 80.2 L475.8 80.2 L476.3 80.2 L476.8 80.2 L477.3 80.2 L477.8 80.2 L478.3 80.2 L478.8 80.2 L479.3 80.2 L479.8 80.2 L480.3 80.2 L480.8 80.2 L481.3 80.2 L481.8 80.2 L482.3 80.2 L482.8 80.2 L483.3 80.2 L483.8 80.2 L484.3 80.2 L484.8 80.2 L485.3 80.2 L485.8 80.2 L486.3 78.9 L486.8 77.6 L487.3 77.4 L487.8 77.2 L488.3 77.0 L488.8 76.9 L489.3 76.9 L489.8 76.9 L490.3 76.9 L490.8 77.1 L491.3 77.4 L491.8 77.8 L492.3 78.1 L492.8 78.5 L493.3 78.8 L493.8 79.0 L494.3 79.0 L494.8 79.1 L495.3 79.1 L495.8 79.1 L496.3 79.2 L496.8 79.2 L497.3 79.2 L497.8 79.2 L498.3 79.2 L498.8 79.3 L499.3 79.3 L499.8 79.3 L500.3 79.3 L500.8 79.3 L501.3 79.3 L501.8 79.3 L502.3 79.3 L502.8 79.4 L503.3 79.4 L503.8 79.4 L504.3 79.4 L504.8 79.4 L505.3 79.4 L505.8 79.4 L506.3 79.4 L506.8 79.4 L507.3 79.4 L507.8 79.4 L508.3 79.4 L508.8 79.4 L509.3 79.4 L509.8 79.4 L510.3 79.4 L510.8 79.4 L511.3 79.4 L511.8 79.4 L512.3 79.4 L512.8 79.5 L513.3 79.5 L513.8 79.5 L514.3 79.4 L514.8 79.4 L515.3 79.4 L515.8 79.3 L516.3 78.2 L516.8 78.2 L517.3 78.2 L517.8 78.2 L518.3 78.5 L518.8 79.1 L519.3 79.4 L519.8 79.6 L520.3 79.9 L520.8 80.1 L521.3 80.2 L521.8 80.2 L522.3 79.3 L522.8 79.3 L523.3 80.2 L523.8 80.2 L524.3 80.2 L524.8 80.2 L525.3 80.2 L525.8 80.2 L526.3 80.2 L526.3 80.4 L525.8 80.4 L525.3 80.4 L524.8 80.4 L524.3 80.4 L523.8 80.4 L523.3 80.4 L522.8 81.2 L522.3 81.2 L521.8 80.4 L521.3 80.4 L520.8 80.5 L520.3 80.9 L519.8 81.2 L519.3 81.4 L518.8 81.8 L518.3 82.7 L517.8 83.3 L517.3 83.2 L516.8 83.2 L516.3 83.1 L515.8 81.4 L515.3 81.4 L514.8 81.4 L514.3 81.4 L513.8 81.4 L513.3 81.4 L512.8 81.4 L512.3 81.4 L511.8 81.4 L511.3 81.4 L510.8 81.4 L510.3 81.4 L509.8 81.4 L509.3 81.4 L508.8 81.4 L508.3 81.4 L507.8 81.4 L507.3 81.4 L506.8 81.4 L506.3 81.4 L505.8 81.4 L505.3 81.4 L504.8 81.4 L504.3 81.5 L503.8 81.5 L503.3 81.5 L502.8 81.5 L502.3 81.5 L501.8 81.5 L501.3 81.5 L500.8 81.5 L500.3 81.5 L499.8 81.5 L499.3 81.5 L498.8 81.6 L498.3 81.6 L497.8 81.6 L497.3 81.6 L496.8 81.6 L496.3 81.6 L495.8 81.6 L495.3 81.7 L494.8 81.7 L494.3 81.8 L493.8 81.8 L493.3 82.1 L492.8 82.8 L492.3 83.6 L491.8 84.3 L491.3 85.1 L490.8 85.9 L490.3 86.4 L489.8 86.5 L489.3 86.6 L488.8 86.7 L488.3 86.6 L487.8 86.1 L487.3 85.6 L486.8 85.1 L486.3 82.6 L485.8 80.4 L485.3 80.4 L484.8 80.4 L484.3 80.4 L483.8 80.4 L483.3 80.4 L482.8 80.4 L482.3 80.4 L481.8 80.4 L481.3 80.4 L480.8 80.4 L480.3 80.4 L479.8 80.4 L479.3 80.4 L478.8 80.4 L478.3 80.4 L477.8 80.4 L477.3 80.4 L476.8 80.4 L476.3 80.4 L475.8 80.4 L475.3 80.4 L474.8 80.4 L474.3 80.4 L473.8 80.4 L473.3 80.4 L472.8 80.4 L472.3 80.4 L471.8 80.4 L471.3 80.4 L470.8 80.4 L470.3 80.4 L469.8 80.4 L469.3 80.4 L468.8 80.4 L468.3 80.4 L467.8 80.4 L467.3 80.4 L466.8 80.4 L466.3 80.4 L465.8 80.4 L465.3 81.5 L464.8 81.8 L464.3 81.8 L463.8 80.4 L463.3 80.4 L462.8 80.4 L462.3 80.4 L461.8 80.4 L461.3 80.4 L460.8 80.4 L460.3 80.7 L459.8 81.9 L459.3 82.9 L458.8 83.6 L458.3 83.8 L457.8 83.1 L457.3 82.3 L456.8 81.2 L456.3 80.4 L455.8 80.4 L455.3 80.4 L454.8 81.1 L454.3 81.1 L453.8 80.4 L453.3 80.4 L452.8 80.4 L452.3 80.4 L451.8 80.7 L451.3 81.1 L450.8 81.1 L450.3 81.1 L449.8 81.1 L449.3 81.1 L448.8 81.1 L448.3 81.1 L447.8 81.1 L447.3 80.4 L446.8 80.4 L446.3 80.4 L445.8 80.4 L445.3 80.4 L444.8 81.0 L444.3 81.4 L443.8 81.4 L443.3 81.5 L442.8 81.5 L442.3 81.6 L441.8 81.6 L441.3 81.6 L440.8 81.6 L440.3 81.6 L439.8 81.6 L439.3 81.6 L438.8 81.6 L438.3 81.6 L437.8 81.6 L437.3 81.6 L436.8 81.6 L436.3 81.1 L435.8 80.4 L435.3 80.4 L434.8 80.4 L434.3 80.4 L433.8 80.4 L433.3 80.4 L432.8 80.4 L432.3 81.5 L431.8 82.2 L431.3 82.4 L430.8 82.5 L430.3 82.6 L429.8 82.7 L429.3 82.7 L428.8 82.7 L428.3 82.7 L427.8 82.7 L427.3 82.7 L426.8 82.7 L426.3 82.7 L425.8 82.7 L425.3 82.7 L424.8 82.7 L424.3 82.7 L423.8 82.6 L423.3 82.4 L422.8 82.3 L422.3 81.5 L421.8 81.0 L421.3 81.3 L420.8 81.4 L420.3 81.4 L419.8 81.4 L419.3 81.4 L418.8 81.4 L418.3 81.3 L417.8 81.3 L417.3 81.3 L416.8 81.4 L416.3 81.4 L415.8 81.4 L415.3 81.4 L414.8 81.4 L414.3 81.4 L413.8 81.4 L413.3 81.4 L412.8 81.4 L412.3 81.4 L411.8 81.5 L411.3 81.8 L410.8 82.2 L410.3 82.5 L409.8 82.9 L409.3 83.3 L408.8 83.6 L408.3 83.6 L407.8 83.7 L407.3 83.6 L406.8 83.3 L406.3 83.0 L405.8 82.3 L405.3 81.5 L404.8 81.8 L404.3 82.0 L403.8 82.1 L403.3 82.2 L402.8 82.3 L402.3 82.3 L401.8 82.4 L401.3 82.4 L400.8 82.4 L400.3 82.5 L399.8 82.5 L399.3 82.5 L398.8 82.5 L398.3 82.5 L397.8 82.5 L397.3 82.4 L396.8 82.4 L396.3 82.4 L395.8 82.3 L395.3 82.2 L394.8 82.1 L394.3 82.0 L393.8 80.9 L393.3 80.4 L392.8 80.4 L392.3 80.4 L391.8 80.4 L391.3 80.4 L390.8 80.4 L390.3 80.4 L389.8 80.4 L389.3 80.4 L388.8 80.4 L388.3 80.8 L387.8 81.4 L387.3 81.4 L386.8 81.0 L386.3 80.8 L385.8 81.1 L385.3 81.3 L384.8 81.5 L384.3 81.7 L383.8 81.9 L383.3 82.0 L382.8 82.1 L382.3 82.2 L381.8 82.3 L381.3 82.4 L380.8 82.5 L380.3 82.5 L379.8 82.6 L379.3 82.6 L378.8 82.6 L378.3 82.7 L377.8 82.7 L377.3 82.7 L376.8 82.7 L376.3 82.7 L375.8 82.6 L375.3 82.6 L374.8 82.6 L374.3 82.6 L373.8 82.5 L373.3 82.4 L372.8 82.4 L372.3 82.3 L371.8 82.2 L371.3 82.2 L370.8 82.2 L370.3 82.3 L369.8 82.3 L369.3 82.2 L368.8 82.2 L368.3 82.1 L367.8 82.0 L367.3 81.8 L366.8 80.9 L366.3 80.4 L365.8 80.4 L365.3 80.5 L364.8 80.6 L364.3 80.6 L363.8 80.6 L363.3 80.6 L362.8 80.6 L362.3 80.6 L361.8 80.4 L361.3 80.4 L360.8 80.4 L360.3 80.4 L359.8 80.4 L359.3 80.4 L358.8 80.4 L358.3 80.4 L357.8 80.4 L357.3 80.4 L356.8 80.4 L356.3 80.4 L355.8 80.4 L355.3 80.4 L354.8 80.4 L354.3 80.4 L353.8 80.4 L353.3 80.4 L352.8 80.4 L352.3 80.4 L351.8 80.4 L351.3 80.4 L350.8 80.4 L350.3 80.4 L349.8 81.2 L349.3 81.2 L348.8 80.7 L348.3 81.0 L347.8 81.7 L347.3 82.0 L346.8 82.4 L346.3 82.4 L345.8 82.4 L345.3 82.2 L344.8 81.8 L344.3 80.3 Z" fill="#000"/>
<path d="M344 80.3 H526.5" stroke="#888" stroke-width="0.55"/>
<path d="M349.6 73.2 L350.01 76.8 L350.35 78.8 L350.35 81.8 L350.01 82.8 L349.6 85.2 L349.19 82.8 L348.85 81.8 L348.85 78.8 L349.19 76.8 Z M367.6 60.8 L368.14 70.5 L368.58 78.8 L368.58 81.8 L368.14 85.2 L367.6 90.0 L367.06 85.2 L366.62 81.8 L366.62 78.8 L367.06 70.5 Z M373.9 46.4 L374.56 63.3 L375.10 78.8 L375.10 81.8 L374.56 105.2 L373.9 130.1 L373.24 105.2 L372.70 81.8 L372.70 78.8 L373.24 63.3 Z M377.4 66.4 L377.94 73.3 L378.38 78.8 L378.38 81.8 L377.94 84.7 L377.4 89.1 L376.86 84.7 L376.42 81.8 L376.42 78.8 L376.86 73.3 Z M380.3 53.3 L380.92 66.8 L381.43 78.8 L381.43 81.8 L380.92 101.3 L380.3 122.3 L379.68 101.3 L379.18 81.8 L379.18 78.8 L379.68 66.8 Z M382.6 74.3 L383.01 77.3 L383.35 78.8 L383.35 81.8 L383.01 83.8 L382.6 87.4 L382.19 83.8 L381.85 81.8 L381.85 78.8 L382.19 77.3 Z M387.8 76.0 L388.21 78.2 L388.55 78.8 L388.55 81.8 L388.21 82.1 L387.8 83.9 L387.39 82.1 L387.05 81.8 L387.05 78.8 L387.39 78.2 Z M394.8 71.1 L395.30 75.7 L395.70 78.8 L395.70 81.8 L395.30 84.2 L394.8 88.0 L394.31 84.2 L393.90 81.8 L393.90 78.8 L394.31 75.7 Z M398.3 62.9 L398.88 71.6 L399.35 78.8 L399.35 81.8 L398.88 87.9 L398.3 95.5 L397.72 87.9 L397.25 81.8 L397.25 78.8 L397.72 71.6 Z M401.3 69.0 L401.84 74.7 L402.28 78.8 L402.28 81.8 L401.84 85.2 L401.3 90.0 L400.76 85.2 L400.32 81.8 L400.32 78.8 L400.76 74.7 Z M407.0 63.6 L407.62 72.0 L408.12 78.8 L408.12 81.8 L407.62 91.3 L407.0 102.3 L406.38 91.3 L405.88 81.8 L405.88 78.8 L406.38 72.0 Z M420.1 68.3 L420.64 74.3 L421.08 78.8 L421.08 81.8 L420.64 88.2 L420.1 96.2 L419.56 88.2 L419.12 81.8 L419.12 78.8 L419.56 74.3 Z M425.5 63.6 L426.08 72.0 L426.55 78.8 L426.55 81.8 L426.08 87.5 L425.5 94.8 L424.92 87.5 L424.45 81.8 L424.45 78.8 L424.92 72.0 Z M430.7 66.3 L431.36 73.3 L431.90 78.8 L431.90 81.8 L431.36 93.0 L430.7 105.7 L430.04 93.0 L429.50 81.8 L429.50 78.8 L430.04 73.3 Z M437.3 71.6 L437.80 75.9 L438.20 78.8 L438.20 81.8 L437.80 85.3 L437.3 90.3 L436.81 85.3 L436.40 81.8 L436.40 78.8 L436.81 75.9 Z M440.5 68.4 L441.08 74.3 L441.55 78.8 L441.55 81.8 L441.08 89.3 L440.5 98.3 L439.92 89.3 L439.45 81.8 L439.45 78.8 L439.92 74.3 Z M443.9 71.0 L444.39 75.7 L444.80 78.8 L444.80 81.8 L444.39 83.7 L443.9 87.0 L443.40 83.7 L443.00 81.8 L443.00 78.8 L443.40 75.7 Z M448.4 74.2 L448.85 77.2 L449.22 78.8 L449.22 81.8 L448.85 84.5 L448.4 88.7 L447.95 84.5 L447.57 81.8 L447.57 78.8 L447.95 77.2 Z M450.5 75.8 L450.91 78.0 L451.25 78.8 L451.25 81.8 L450.91 82.8 L450.5 85.4 L450.09 82.8 L449.75 81.8 L449.75 78.8 L450.09 78.0 Z M458.5 75.3 L459.00 77.8 L459.40 78.8 L459.40 81.8 L459.00 86.3 L458.5 92.4 L458.00 86.3 L457.60 81.8 L457.60 78.8 L458.00 77.8 Z M488.4 67.8 L489.02 74.0 L489.52 78.8 L489.52 81.8 L489.02 89.5 L488.4 98.8 L487.78 89.5 L487.27 81.8 L487.27 78.8 L487.78 74.0 Z M490.5 63.0 L491.08 71.7 L491.55 78.8 L491.55 81.8 L491.08 86.2 L490.5 92.0 L489.92 86.2 L489.45 81.8 L489.45 78.8 L489.92 71.7 Z M494.8 67.8 L495.34 74.0 L495.78 78.8 L495.78 81.8 L495.34 84.8 L494.8 89.2 L494.26 84.8 L493.82 81.8 L493.82 78.8 L494.26 74.0 Z M498.0 68.4 L498.54 74.3 L498.98 78.8 L498.98 81.8 L498.54 87.4 L498.0 94.5 L497.46 87.4 L497.02 81.8 L497.02 78.8 L497.46 74.3 Z M502.2 72.6 L502.65 76.4 L503.02 78.8 L503.02 81.8 L502.65 83.2 L502.2 86.0 L501.75 83.2 L501.38 81.8 L501.38 78.8 L501.75 76.4 Z M506.0 73.2 L506.45 76.8 L506.82 78.8 L506.82 81.8 L506.45 82.6 L506.0 84.9 L505.55 82.6 L505.18 81.8 L505.18 78.8 L505.55 76.8 Z M509.7 75.3 L510.15 77.8 L510.52 78.8 L510.52 81.8 L510.15 84.2 L509.7 88.1 L509.25 84.2 L508.88 81.8 L508.88 78.8 L509.25 77.8 Z M517.2 74.8 L517.78 77.5 L518.25 78.8 L518.25 81.8 L517.78 84.2 L517.2 88.1 L516.62 84.2 L516.15 81.8 L516.15 78.8 L516.62 77.5 Z M370.5 68.0 L370.91 74.2 L371.25 78.8 L371.25 81.8 L370.91 86.2 L370.5 92.0 L370.09 86.2 L369.75 81.8 L369.75 78.8 L370.09 74.2 Z M371.8 70.0 L372.21 75.2 L372.55 78.8 L372.55 81.8 L372.21 84.2 L371.8 88.0 L371.39 84.2 L371.05 81.8 L371.05 78.8 L371.39 75.2 Z M375.6 69.0 L376.01 74.7 L376.35 78.8 L376.35 81.8 L376.01 85.7 L375.6 91.0 L375.19 85.7 L374.85 81.8 L374.85 78.8 L375.19 74.7 Z M379.0 70.0 L379.41 75.2 L379.75 78.8 L379.75 81.8 L379.41 86.7 L379.0 93.0 L378.59 86.7 L378.25 81.8 L378.25 78.8 L378.59 75.2 Z M384.0 72.0 L384.37 76.2 L384.68 78.8 L384.68 81.8 L384.37 84.2 L384.0 88.0 L383.63 84.2 L383.32 81.8 L383.32 78.8 L383.63 76.2 Z M396.5 70.0 L396.91 75.2 L397.25 78.8 L397.25 81.8 L396.91 85.2 L396.5 90.0 L396.09 85.2 L395.75 81.8 L395.75 78.8 L396.09 75.2 Z M399.8 71.0 L400.21 75.7 L400.55 78.8 L400.55 81.8 L400.21 86.2 L399.8 92.0 L399.39 86.2 L399.05 81.8 L399.05 78.8 L399.39 75.7 Z M403.0 72.0 L403.41 76.2 L403.75 78.8 L403.75 81.8 L403.41 84.7 L403.0 89.0 L402.59 84.7 L402.25 81.8 L402.25 78.8 L402.59 76.2 Z M423.8 68.0 L424.21 74.2 L424.55 78.8 L424.55 81.8 L424.21 85.2 L423.8 90.0 L423.39 85.2 L423.05 81.8 L423.05 78.8 L423.39 74.2 Z M427.5 69.0 L427.91 74.7 L428.25 78.8 L428.25 81.8 L427.91 86.2 L427.5 92.0 L427.09 86.2 L426.75 81.8 L426.75 78.8 L427.09 74.7 Z M428.8 70.0 L429.21 75.2 L429.55 78.8 L429.55 81.8 L429.21 87.7 L428.8 95.0 L428.39 87.7 L428.05 81.8 L428.05 78.8 L428.39 75.2 Z M439.0 72.0 L439.37 76.2 L439.68 78.8 L439.68 81.8 L439.37 85.2 L439.0 90.0 L438.63 85.2 L438.32 81.8 L438.32 78.8 L438.63 76.2 Z M442.2 73.0 L442.57 76.7 L442.88 78.8 L442.88 81.8 L442.57 84.2 L442.2 88.0 L441.83 84.2 L441.52 81.8 L441.52 78.8 L441.83 76.7 Z M486.9 70.0 L487.39 75.2 L487.80 78.8 L487.80 81.8 L487.39 88.2 L486.9 96.0 L486.40 88.2 L486.00 81.8 L486.00 78.8 L486.40 75.2 Z M489.6 66.0 L490.10 73.2 L490.50 78.8 L490.50 81.8 L490.10 89.7 L489.6 99.0 L489.11 89.7 L488.70 81.8 L488.70 78.8 L489.11 73.2 Z M491.6 69.0 L492.05 74.7 L492.43 78.8 L492.43 81.8 L492.05 87.7 L491.6 95.0 L491.15 87.7 L490.78 81.8 L490.78 78.8 L491.15 74.7 Z M496.4 72.0 L496.77 76.2 L497.07 78.8 L497.07 81.8 L496.77 83.7 L496.4 87.0 L496.03 83.7 L495.72 81.8 L495.72 78.8 L496.03 76.2 Z M500.0 73.0 L500.37 76.7 L500.68 78.8 L500.68 81.8 L500.37 84.2 L500.0 88.0 L499.63 84.2 L499.32 81.8 L499.32 78.8 L499.63 76.7 Z M504.0 74.0 L504.37 77.2 L504.68 78.8 L504.68 81.8 L504.37 83.2 L504.0 86.0 L503.63 83.2 L503.32 81.8 L503.32 78.8 L503.63 77.2 Z M507.8 75.0 L508.17 77.7 L508.48 78.8 L508.48 81.8 L508.17 83.2 L507.8 86.0 L507.43 83.2 L507.12 81.8 L507.12 78.8 L507.43 77.7 Z M512.0 75.0 L512.37 77.7 L512.67 78.8 L512.67 81.8 L512.37 82.7 L512.0 85.0 L511.63 82.7 L511.32 81.8 L511.32 78.8 L511.63 77.7 Z M514.0 76.0 L514.33 78.2 L514.60 78.8 L514.60 81.8 L514.33 83.2 L514.0 86.0 L513.67 83.2 L513.40 81.8 L513.40 78.8 L513.67 78.2 Z " fill="#000"/>
<ellipse cx="517.4" cy="81.4" rx="1.5" ry="6.2" fill="#000"/>
<ellipse cx="458.4" cy="83.2" rx="1.6" ry="7.5" fill="#000"/>
<ellipse cx="345.9" cy="81.0" rx="1.6" ry="4.8" fill="#000"/>
<ellipse cx="408.2" cy="81.8" rx="2.2" ry="7.0" fill="#000"/>
<ellipse cx="489.0" cy="83.0" rx="1.9" ry="9.5" fill="#000"/>
<ellipse cx="464.8" cy="80.4" rx="0.9" ry="3.8" fill="#000"/>
<ellipse cx="454.4" cy="80.3" rx="0.8" ry="2.0" fill="#000"/>
</g>

<path d="M37.5 458.3 C38.4 457.4 41.3 456.1 42.8 452.8 C44.2 449.5 45.1 439.2 46.2 438.5 C47.3 437.8 48.8 452.6 49.6 448.7 C50.4 444.8 50.2 425.8 51.0 415.0 C51.8 404.2 52.9 383.7 54.3 383.7 C55.6 383.7 58.1 407.7 59.1 415.0 C60.1 422.3 59.8 427.7 60.5 427.7 C61.2 427.7 62.2 419.8 63.2 415.0 C64.2 410.2 65.8 402.9 66.6 398.7 C67.4 394.5 67.4 395.7 68.0 389.9 C68.6 384.1 69.6 365.7 70.3 364.0 C71.0 362.3 71.4 376.8 72.0 379.7 C72.6 382.6 73.2 379.5 73.8 381.7 C74.4 383.9 74.9 393.3 75.7 392.6 C76.5 391.9 77.3 374.9 78.4 377.6 C79.5 380.3 81.4 407.6 82.5 408.9 C83.6 410.1 84.2 386.2 84.9 385.1 C85.7 384.0 86.3 402.7 87.0 402.1 C87.7 401.5 88.2 385.3 89.0 381.7 C89.8 378.1 90.8 382.3 91.7 380.6 C92.6 378.9 93.2 365.9 94.4 371.5 C95.6 377.1 97.8 408.4 98.8 414.3 C99.8 420.2 100.1 407.0 100.6 406.8 C101.1 406.6 101.3 414.1 101.9 413.0 C102.5 411.9 103.5 402.7 104.0 400.5 C104.5 398.3 104.7 404.7 105.0 400.0 C105.3 395.3 105.7 379.4 106.1 372.2 C106.5 365.0 106.9 358.2 107.2 356.6 C107.5 355.0 107.7 363.7 108.1 362.7 C108.5 361.7 109.1 351.8 109.5 350.4 C109.9 349.0 110.0 348.7 110.4 354.5 C110.8 360.3 111.3 384.9 111.8 385.1 C112.3 385.3 112.6 346.0 113.6 355.9 C114.6 365.8 116.5 438.0 118.0 444.7 C119.5 451.4 121.1 400.9 122.4 396.0 C123.7 391.1 124.9 412.0 125.8 415.4 C126.7 418.8 127.2 415.4 127.8 416.1 C128.4 416.8 128.6 426.6 129.2 419.5 C129.8 412.4 130.6 381.7 131.2 373.5 C131.8 365.3 132.4 372.4 133.0 370.1 C133.6 367.9 133.5 347.2 134.6 360.0 C135.7 372.8 138.3 436.3 139.4 446.7 C140.5 457.1 140.7 426.5 141.4 422.2 C142.1 417.9 142.6 425.2 143.5 420.9 C144.4 416.6 145.8 398.8 146.6 396.4 C147.4 393.9 147.7 406.0 148.2 406.2 C148.7 406.4 149.3 398.4 149.8 397.3 C150.3 396.2 150.7 399.6 151.2 399.4 C151.7 399.2 152.1 392.4 153.0 396.0 C153.9 399.6 155.6 419.7 156.6 420.9 C157.6 422.1 158.2 411.9 159.1 403.4 C160.0 394.9 161.0 374.0 161.8 370.1 C162.6 366.2 163.3 378.4 163.8 380.3 C164.3 382.2 164.2 373.6 164.8 381.7 C165.4 389.8 166.5 426.6 167.1 429.0 C167.7 431.4 168.1 399.4 168.6 396.0 C169.1 392.6 169.5 406.2 170.1 408.8 C170.7 411.4 171.4 410.8 172.1 411.6 C172.8 412.4 173.8 412.6 174.4 413.6 C175.0 414.6 175.3 418.9 175.8 417.7 C176.3 416.4 177.0 408.2 177.6 406.1 C178.2 404.1 179.0 406.3 179.6 405.4 C180.2 404.5 180.7 400.9 181.3 400.5 C181.9 400.1 182.5 401.9 183.0 402.7 C183.5 403.5 183.5 411.4 184.3 405.4 C185.1 399.4 186.2 361.7 187.7 366.7 C189.2 371.7 192.0 430.7 193.3 435.6 C194.6 440.5 194.7 401.5 195.5 396.0 C196.3 390.5 197.4 402.1 198.0 402.7 C198.6 403.2 198.4 400.4 199.3 399.3 C200.2 398.2 202.5 396.3 203.4 395.9 C204.3 395.4 204.2 398.0 204.7 396.6 C205.2 395.2 206.0 389.1 206.5 387.8 C207.0 386.6 207.2 394.3 207.9 389.1 C208.6 383.9 209.7 357.2 210.6 356.5 C211.5 355.8 212.6 381.0 213.3 385.1 C214.0 389.2 214.4 381.5 214.9 381.0 C215.4 380.5 215.9 385.5 216.6 382.3 C217.3 379.1 218.4 365.9 219.0 362.0 C219.6 358.1 220.0 362.0 220.4 359.2 C220.8 356.4 221.3 347.8 221.7 345.0 C222.1 342.2 222.4 342.9 222.8 342.2 C223.2 341.5 224.0 341.6 224.4 340.9 C224.8 340.2 225.1 337.8 225.4 338.2 C225.8 338.6 226.0 338.9 226.5 343.6 C227.0 348.4 227.7 362.3 228.3 366.7 C228.9 371.1 229.6 363.5 230.2 370.1 C230.8 376.8 231.1 396.9 231.6 406.6 C232.1 416.3 232.7 425.5 233.2 428.3 C233.7 431.1 234.3 422.8 234.7 423.7 C235.1 424.6 235.0 435.2 235.5 433.8 C236.0 432.4 237.2 416.8 237.8 415.1 C238.4 413.4 238.4 423.8 238.9 423.7 C239.4 423.6 240.2 413.9 240.9 414.3 C241.6 414.7 242.2 428.1 242.8 426.0 C243.5 423.9 244.2 406.0 244.8 401.9 C245.5 397.8 246.1 401.3 246.7 401.1 C247.3 400.9 247.6 402.9 248.2 400.7 C248.8 398.5 249.8 392.2 250.3 388.0 C250.9 383.8 251.3 377.6 251.5 375.5" stroke="#1c9a2c" stroke-width="1.4" fill="none" stroke-linejoin="round"/>
<path d="M37.5 469.4 C42.8 469.4 63.8 469.3 69.3 469.2 C74.8 469.1 69.9 468.4 70.5 468.8 C71.1 469.2 71.5 477.0 72.7 471.4 C73.9 465.8 76.0 436.5 77.5 435.1 C79.0 433.8 80.1 465.0 81.5 463.3 C82.9 461.6 84.6 426.4 85.9 424.7 C87.2 423.0 88.3 450.3 89.4 453.2 C90.5 456.1 91.3 441.0 92.4 441.9 C93.5 442.8 94.9 455.1 95.8 458.3 C96.7 461.5 97.1 459.6 97.8 461.0 C98.5 462.4 98.9 471.9 99.9 466.4 C100.9 460.8 102.8 430.1 103.8 427.7 C104.8 425.3 105.4 447.4 106.1 452.1 C106.8 456.9 107.1 455.8 107.7 456.2 C108.3 456.6 108.9 454.6 109.5 454.6 C110.1 454.6 110.3 459.1 111.2 456.2 C112.1 453.3 113.6 438.2 114.9 437.2 C116.2 436.2 117.5 452.7 119.0 450.1 C120.5 447.5 122.5 424.8 123.7 421.6 C125.0 418.4 125.7 429.5 126.5 431.1 C127.3 432.7 126.9 427.2 128.5 431.1 C130.1 435.0 134.2 456.1 136.0 454.2 C137.8 452.3 138.3 420.4 139.4 419.5 C140.5 418.6 141.8 444.5 142.8 448.7 C143.8 452.9 144.6 445.0 145.5 444.7 C146.4 444.4 147.0 449.0 148.2 446.7 C149.4 444.4 151.1 427.9 152.6 431.1 C154.1 434.3 155.5 462.5 157.0 465.7 C158.5 468.9 160.2 450.4 161.5 450.1 C162.8 449.8 163.3 467.9 164.5 463.7 C165.7 459.5 167.3 428.2 168.4 425.0 C169.5 421.8 170.1 440.9 170.8 444.2 C171.5 447.5 171.7 442.8 172.5 444.9 C173.3 447.0 174.5 458.5 175.5 457.1 C176.5 455.7 177.2 434.7 178.5 436.7 C179.8 438.7 181.8 464.7 183.2 469.0 C184.6 473.3 185.7 462.1 187.0 462.6 C188.3 463.1 189.7 479.0 191.2 472.2 C192.7 465.4 194.6 427.8 195.9 421.8 C197.2 415.9 198.1 432.1 199.1 436.5 C200.1 440.9 201.0 448.2 202.2 448.0 C203.4 447.8 204.8 435.0 206.1 435.3 C207.4 435.6 208.8 447.4 209.9 449.9 C211.0 452.4 211.8 450.1 212.5 450.5 C213.2 450.9 213.6 453.4 214.4 452.5 C215.2 451.6 215.9 442.0 217.2 445.2 C218.5 448.4 220.5 476.4 222.0 471.5 C223.5 466.6 224.8 415.2 226.4 416.0 C228.0 416.8 230.0 482.4 231.5 476.0 C233.0 469.6 234.2 383.5 235.6 377.5 C237.0 371.5 238.6 430.0 239.7 439.8 C240.8 449.6 241.3 436.5 242.2 436.2 C243.1 435.9 243.5 435.4 244.9 437.8 C246.3 440.2 249.7 448.2 250.7 450.3" stroke="#2a2ad0" stroke-width="1.4" fill="none" stroke-linejoin="round"/>

<path d="M332.1 365.5 L333.3 338.6 L334.9 328.6 L336.8 328.6 L337.5 330.9 L339.1 348.2 L339.9 354.9 L341.1 350.1 L342.2 366.4 L343.4 365.5 L344.5 373.2 L346.1 404.0 L349.2 339.5 L351.0 377.0 L353.0 339.5 L355.0 390.4 L356.6 381.8 L357.7 380.9 L360.8 315.5 L364.2 408.2 L367.0 396.8 L369.1 382.8 L370.8 402.3 L372.7 371.0 L374.2 386.6 L375.5 400.7 L377.5 392.2 L379.6 428.9 L381.5 401.5 L383.4 417.2 L385.3 411.6 L387.2 425.0 L389.1 414.0 L391.6 425.0 L393.5 422.7 L395.4 428.9 L398.6 428.9 L400.0 427.1 L402.5 424.0 L404.8 416.2 L406.9 431.1 L408.2 431.9 L410.1 439.7 L412.0 438.9 L413.3 435.0 L414.9 425.7 L416.4 444.4 L418.3 457.6 L419.6 456.9 L422.5 441.3 L424.6 452.9 L426.5 449.8 L428.0 454.5 L431.6 443.6 L434.1 449.8 L436.0 452.9 L437.9 455.3 L439.8 456.9 L441.7 460.0 L444.2 458.5 L446.1 459.0 L448.7 457.5 L451.4 458.9 L453.5 460.9 L455.7 456.3 L457.8 458.9 L461.0 462.2 L463.7 465.5 L466.2 459.5 L468.0 464.8 L470.1 463.5 L472.2 464.2 L474.4 462.9 L476.0 464.8 L477.6 468.2 L479.7 466.8 L481.9 469.9 L484.0 467.8 L487.7 465.5 L490.9 464.8 L493.6 465.5 L495.6 464.5 L498.1 468.6 L500.2 467.3 L502.2 468.6 L505.3 470.5 L508.3 471.8 L510.9 466.1 L513.4 467.9 L516.5 469.9 L519.5 471.2 L522.6 470.5 L525.6 470.8 L528.7 471.5 L531.8 471.8 L534.8 470.5 L536.8 469.2 L539.9 472.4 L542.4 469.9 L543.5 470.8 L543.5 472.3 L542.4 471.7 L539.9 473.4 L536.8 471.2 L534.8 472.1 L531.8 473.0 L528.7 472.8 L525.6 472.3 L522.6 472.1 L519.5 472.6 L516.5 471.7 L513.4 470.3 L510.9 469.0 L508.3 473.0 L505.3 472.1 L502.2 470.7 L500.2 469.8 L498.1 470.7 L495.6 467.8 L493.6 468.5 L490.9 468.1 L487.7 468.5 L484.0 470.2 L481.9 471.7 L479.7 469.5 L477.6 470.5 L476.0 468.1 L474.4 466.7 L472.2 467.6 L470.1 467.1 L468.0 468.1 L466.2 464.3 L463.7 468.5 L461.0 466.2 L457.8 463.9 L455.7 462.0 L453.5 465.3 L451.4 463.9 L448.7 462.9 L446.1 463.9 L444.2 463.6 L441.7 464.6 L439.8 462.4 L437.9 461.3 L436.0 459.6 L434.1 457.4 L431.6 453.0 L428.0 460.8 L426.5 457.4 L424.6 459.6 L422.5 451.4 L419.6 462.4 L418.3 463.0 L416.4 453.6 L414.9 440.3 L413.3 446.9 L412.0 449.7 L410.1 450.2 L408.2 444.7 L406.9 444.1 L404.8 433.6 L402.5 439.1 L400.0 441.3 L398.6 442.6 L395.4 442.6 L393.5 438.2 L391.6 439.8 L389.1 432.0 L387.2 439.8 L385.3 430.3 L383.4 434.3 L381.5 423.1 L379.6 442.6 L377.5 416.5 L375.5 422.6 L374.2 412.6 L372.7 401.5 L370.8 423.7 L369.1 409.8 L367.0 419.8 L364.2 427.9 L360.8 362.1 L357.7 408.5 L356.6 409.1 L355.0 415.3 L353.0 379.1 L351.0 405.8 L349.2 379.1 L346.1 424.9 L344.5 403.0 L343.4 397.6 L342.2 398.2 L341.1 386.7 L339.9 390.0 L339.1 385.3 L337.5 373.0 L336.8 371.4 L334.9 371.4 L333.3 378.5 L332.1 397.6 Z" fill="#c8e8c8" fill-opacity="0.55" stroke="none"/>
<path d="M331.6 412.3 L333.0 402.3 L335.2 426.3 L337.5 400.7 L339.2 416.5 L341.1 398.2 L342.5 400.7 L344.0 389.9 L346.0 406.5 L347.9 432.2 L350.4 423.1 L352.8 397.4 L355.1 416.5 L357.7 437.0 L360.0 431.2 L362.4 405.7 L364.1 425.9 L365.7 424.3 L366.6 426.6 L367.9 417.3 L369.1 427.3 L371.2 418.9 L372.9 428.2 L374.6 427.3 L376.5 428.2 L379.0 415.9 L381.5 385.0 L383.4 414.3 L384.3 427.3 L385.6 413.5 L389.1 433.5 L391.0 422.0 L392.6 429.6 L393.5 422.0 L395.4 436.6 L398.6 413.5 L400.5 425.6 L402.2 415.6 L405.1 403.3 L407.8 431.0 L409.8 421.8 L412.0 427.9 L414.5 435.6 L416.4 415.6 L419.6 440.3 L423.0 420.2 L425.3 437.2 L427.1 428.7 L430.0 444.2 L432.2 440.3 L434.1 437.9 L436.6 419.5 L439.1 441.8 L441.0 452.6 L442.9 452.6 L445.6 437.4 L448.2 453.3 L450.3 445.5 L451.9 446.8 L455.1 429.2 L457.3 446.1 L459.4 444.8 L461.0 447.5 L463.2 455.3 L464.8 457.2 L467.4 453.3 L469.0 453.9 L470.6 458.6 L473.0 444.8 L474.4 450.7 L475.4 449.4 L477.0 458.6 L479.2 466.4 L480.8 465.0 L483.7 457.2 L486.1 459.8 L488.3 461.1 L490.6 457.3 L492.5 463.1 L494.1 464.4 L497.1 460.6 L499.7 462.5 L501.7 461.6 L504.3 465.0 L508.3 468.1 L510.9 464.7 L512.9 465.9 L514.4 465.6 L517.0 469.3 L519.5 467.5 L522.6 472.1 L525.6 468.7 L528.7 471.2 L531.8 468.7 L535.3 471.9 L537.4 471.2 L540.4 473.7 L543.0 470.6 L543.0 472.3 L540.4 474.4 L537.4 472.7 L535.3 473.1 L531.8 470.9 L528.7 472.7 L525.6 470.9 L522.6 473.3 L519.5 470.1 L517.0 471.3 L514.4 468.8 L512.9 468.9 L510.9 468.1 L508.3 470.5 L504.3 468.4 L501.7 466.0 L499.7 466.6 L497.1 465.3 L494.1 467.9 L492.5 467.0 L490.6 463.0 L488.3 465.6 L486.1 464.7 L483.7 462.9 L480.8 468.4 L479.2 469.3 L477.0 463.8 L475.4 457.5 L474.4 458.4 L473.0 454.2 L470.6 463.8 L469.0 460.6 L467.4 460.2 L464.8 462.9 L463.2 461.6 L461.0 456.1 L459.4 454.2 L457.3 455.2 L455.1 443.4 L451.9 455.7 L450.3 454.8 L448.2 460.2 L445.6 449.1 L442.9 459.7 L441.0 459.7 L439.1 452.2 L436.6 436.6 L434.1 449.5 L432.2 451.1 L430.0 453.8 L427.1 443.0 L425.3 449.0 L423.0 437.2 L419.6 451.1 L416.4 433.9 L414.5 447.9 L412.0 442.5 L409.8 438.3 L407.8 444.6 L405.1 425.3 L402.2 433.9 L400.5 440.9 L398.6 432.5 L395.4 448.5 L393.5 438.3 L392.6 443.7 L391.0 438.3 L389.1 446.4 L385.6 432.5 L384.3 442.1 L383.4 433.0 L381.5 412.6 L379.0 434.1 L376.5 442.7 L374.6 442.1 L372.9 442.7 L371.2 436.2 L369.1 442.1 L367.9 435.1 L366.6 441.6 L365.7 440.0 L364.1 441.1 L362.4 427.0 L360.0 444.8 L357.7 448.8 L355.1 434.5 L352.8 421.3 L350.4 439.1 L347.9 445.5 L346.0 427.6 L344.0 416.0 L342.5 423.6 L341.1 421.8 L339.2 434.5 L337.5 423.6 L335.2 441.4 L333.0 424.7 L331.6 431.6 Z" fill="#d4d4f4" fill-opacity="0.55" stroke="none"/>
<path d="M332.1 386.9 L333.3 365.2 L334.9 357.1 L336.8 357.1 L337.5 359.0 L339.1 372.9 L339.9 378.3 L341.1 374.5 L342.2 387.6 L343.4 386.9 L344.5 393.1 L346.1 417.9 L349.2 365.9 L351.0 396.2 L353.0 365.9 L355.0 407.0 L356.6 400.0 L357.7 399.3 L360.8 346.6 L364.2 421.3 L367.0 412.1 L369.1 400.8 L370.8 416.6 L372.7 391.3 L374.2 403.9 L375.5 415.3 L377.5 408.4 L379.6 438.0 L381.5 415.9 L383.4 428.6 L385.3 424.1 L387.2 434.9 L389.1 426.0 L391.6 434.9 L393.5 433.0 L395.4 438.0 L398.6 438.0 L400.0 436.6 L402.5 434.1 L404.8 427.8 L406.9 439.8 L408.2 440.4 L410.1 446.7 L412.0 446.1 L413.3 442.9 L414.9 435.4 L416.4 450.5 L418.3 461.2 L419.6 460.6 L422.5 448.0 L424.6 457.4 L426.5 454.9 L428.0 458.7 L431.6 449.9 L434.1 454.9 L436.0 457.4 L437.9 459.3 L439.8 460.6 L441.7 463.1 L444.2 461.9 L446.1 462.3 L448.7 461.1 L451.4 462.2 L453.5 463.8 L455.7 460.1 L457.8 462.2 L461.0 464.9 L463.7 467.5 L466.2 462.7 L468.0 467.0 L470.1 465.9 L472.2 466.5 L474.4 465.4 L476.0 467.0 L477.6 469.7 L479.7 468.6 L481.9 471.1 L484.0 469.4 L487.7 467.5 L490.9 467.0 L493.6 467.5 L495.6 466.7 L498.1 470.0 L500.2 469.0 L502.2 470.0 L505.3 471.6 L508.3 472.6 L510.9 468.0 L513.4 469.5 L516.5 471.1 L519.5 472.1 L522.6 471.6 L525.6 471.8 L528.7 472.4 L531.8 472.6 L534.8 471.6 L536.8 470.5 L539.9 473.1 L542.4 471.1 L543.5 471.8" stroke="#1c9a2c" stroke-width="1.8" fill="none" stroke-linejoin="round" stroke-linecap="round"/>
<path d="M331.6 423.8 L333.0 415.6 L335.2 435.3 L337.5 414.3 L339.2 427.2 L341.1 412.2 L342.5 414.3 L344.0 405.4 L346.0 419.0 L347.9 440.1 L350.4 432.6 L352.8 411.6 L355.1 427.2 L357.7 444.0 L360.0 439.3 L362.4 418.4 L364.1 434.9 L365.7 433.6 L366.6 435.5 L367.9 427.9 L369.1 436.1 L371.2 429.2 L372.9 436.8 L374.6 436.1 L376.5 436.8 L379.0 426.7 L381.5 401.4 L383.4 425.4 L384.3 436.1 L385.6 424.8 L389.1 441.2 L391.0 431.7 L392.6 438.0 L393.5 431.7 L395.4 443.7 L398.6 424.8 L400.5 434.7 L402.2 426.5 L405.1 416.4 L407.8 439.1 L409.8 431.6 L412.0 436.6 L414.5 442.9 L416.4 426.5 L419.6 446.7 L423.0 430.3 L425.3 444.2 L427.1 437.2 L430.0 449.9 L432.2 446.7 L434.1 444.8 L436.6 429.7 L439.1 448.0 L441.0 456.8 L442.9 456.8 L445.6 444.4 L448.2 457.4 L450.3 451.0 L451.9 452.1 L455.1 437.6 L457.3 451.5 L459.4 450.4 L461.0 452.6 L463.2 459.0 L464.8 460.6 L467.4 457.4 L469.0 457.9 L470.6 461.7 L473.0 450.4 L474.4 455.3 L475.4 454.2 L477.0 461.7 L479.2 468.1 L480.8 467.0 L483.7 460.6 L486.1 462.7 L488.3 463.8 L490.6 460.7 L492.5 465.4 L494.1 466.5 L497.1 463.4 L499.7 464.9 L501.7 464.2 L504.3 467.0 L508.3 469.5 L510.9 466.7 L512.9 467.7 L514.4 467.5 L517.0 470.5 L519.5 469.0 L522.6 472.8 L525.6 470.0 L528.7 472.1 L531.8 470.0 L535.3 472.6 L537.4 472.1 L540.4 474.1 L543.0 471.6" stroke="#2626cc" stroke-width="1.8" fill="none" stroke-linejoin="round" stroke-linecap="round"/>

<text x="3.2" y="17.8" font-size="16.5" font-weight="700" text-anchor="start" fill="#000" >(a)</text>
<text x="99.9" y="16.8" font-size="15" font-weight="400" text-anchor="start" fill="#000" >Lip movements</text>
<text x="286.2" y="17.8" font-size="16.5" font-weight="700" text-anchor="start" fill="#000" >(b)</text>
<text x="374.8" y="17.0" font-size="15" font-weight="400" text-anchor="start" fill="#000" >Speech Stimulus</text>
<text x="2.9" y="289.6" font-size="16.5" font-weight="700" text-anchor="start" fill="#000" >(c)</text>
<text x="151.3" y="285.8" font-size="15" font-weight="400" text-anchor="middle" fill="#000" >Speech Features</text>
<text x="151.3" y="304.4" font-size="15" font-weight="400" text-anchor="middle" fill="#000" >Amplitude</text>
<text x="285.6" y="289.6" font-size="16.5" font-weight="700" text-anchor="start" fill="#000" >(d)</text>
<text x="431.7" y="286.2" font-size="15" font-weight="400" text-anchor="middle" fill="#000" >Power Spectrum of the</text>
<text x="430.0" y="304.1" font-size="15" font-weight="400" text-anchor="middle" fill="#000" >Speech Features</text>
<path d="M342.4 175.9 H529" stroke="#333" stroke-width="2" fill="none"/>
<path d="M522.7 171.8 L530 175.9 L522.7 179.8" stroke="#333" stroke-width="1.8" fill="none"/>
<text x="342.9" y="192.3" font-size="12" font-weight="400" text-anchor="middle" fill="#000" >0</text>
<text x="378.6" y="192.3" font-size="12" font-weight="400" text-anchor="middle" fill="#000" >2</text>
<text x="414" y="192.3" font-size="12" font-weight="400" text-anchor="middle" fill="#000" >4</text>
<text x="450" y="192.3" font-size="12" font-weight="400" text-anchor="middle" fill="#000" >6</text>
<text x="485.8" y="192.3" font-size="12" font-weight="400" text-anchor="middle" fill="#000" >8</text>
<text x="524.7" y="192.3" font-size="12" font-weight="400" text-anchor="middle" fill="#000" >10</text>
<text x="434.7" y="210" font-size="12" font-weight="400" text-anchor="middle" fill="#000" >Time (sec)</text>
<text x="338.0" y="142" font-size="7.6" font-weight="400" text-anchor="start" fill="#000" font-style="italic">&lt;&lt;Mise fuori un bando e se un astrologo gli sa dire dov’è, lo fa</text>
<text x="338.0" y="156" font-size="7.6" font-weight="400" text-anchor="start" fill="#000" font-style="italic">ricco per tutta la vita. C’era un contadino senza un soldo&gt;&gt;</text>
<path d="M37.7 308.7 V476.2 H251.5" stroke="#3a3a3a" stroke-width="1.3" fill="none"/>
<path d="M37.7 309.4 H40.3" stroke="#3a3a3a" stroke-width="1.3"/>
<path d="M37.7 392.8 H40.3" stroke="#3a3a3a" stroke-width="1.3"/>
<path d="M77.7 476 V473.4" stroke="#3a3a3a" stroke-width="1.3"/>
<path d="M117.8 476 V473.4" stroke="#3a3a3a" stroke-width="1.3"/>
<path d="M157.9 476 V473.4" stroke="#3a3a3a" stroke-width="1.3"/>
<path d="M198.1 476 V473.4" stroke="#3a3a3a" stroke-width="1.3"/>
<path d="M238.2 476 V473.4" stroke="#3a3a3a" stroke-width="1.3"/>
<text x="29.3" y="318.8" font-size="12" font-weight="400" text-anchor="end" fill="#000" >1</text>
<text x="35.0" y="398.6" font-size="12" font-weight="400" text-anchor="end" fill="#000" >0.5</text>
<text x="30.2" y="478.3" font-size="12" font-weight="400" text-anchor="end" fill="#000" >0</text>
<text x="39.9" y="490.9" font-size="12" font-weight="400" text-anchor="middle" fill="#000" >0</text>
<text x="79.6" y="490.9" font-size="12" font-weight="400" text-anchor="middle" fill="#000" >1</text>
<text x="119.3" y="490.9" font-size="12" font-weight="400" text-anchor="middle" fill="#000" >2</text>
<text x="159.0" y="490.9" font-size="12" font-weight="400" text-anchor="middle" fill="#000" >3</text>
<text x="198.7" y="490.9" font-size="12" font-weight="400" text-anchor="middle" fill="#000" >4</text>
<text x="238.4" y="490.9" font-size="12" font-weight="400" text-anchor="middle" fill="#000" >5</text>
<text x="150" y="508.9" font-size="12" font-weight="400" text-anchor="middle" fill="#000" >Time (sec)</text>
<text x="0" y="0" font-size="12" font-weight="400" text-anchor="middle" fill="#000" transform="translate(12.5 393.8) rotate(-90)">Amplitude</text>
<path d="M331.2 308.8 V475.9 H544" stroke="#3a3a3a" stroke-width="1.3" fill="none"/>
<path d="M331.2 327.4 H333.8" stroke="#3a3a3a" stroke-width="1.3"/>
<path d="M331.2 364.3 H333.8" stroke="#3a3a3a" stroke-width="1.3"/>
<path d="M331.2 401.7 H333.8" stroke="#3a3a3a" stroke-width="1.3"/>
<path d="M331.2 438.7 H333.8" stroke="#3a3a3a" stroke-width="1.3"/>
<path d="M402.0 475.9 V473.3" stroke="#3a3a3a" stroke-width="1.3"/>
<path d="M472.8 475.9 V473.3" stroke="#3a3a3a" stroke-width="1.3"/>
<path d="M543.4 475.9 V473.3" stroke="#3a3a3a" stroke-width="1.3"/>
<text x="323.6" y="333.3" font-size="12" font-weight="400" text-anchor="end" fill="#000" >6</text>
<text x="323.6" y="371" font-size="12" font-weight="400" text-anchor="end" fill="#000" >4</text>
<text x="323.6" y="409" font-size="12" font-weight="400" text-anchor="end" fill="#000" >2</text>
<text x="323.6" y="444.5" font-size="12" font-weight="400" text-anchor="end" fill="#000" >1</text>
<text x="323.6" y="478" font-size="12" font-weight="400" text-anchor="end" fill="#000" >0</text>
<text x="333.2" y="490.9" font-size="12" font-weight="400" text-anchor="middle" fill="#000" >2</text>
<text x="402.5" y="490.9" font-size="12" font-weight="400" text-anchor="middle" fill="#000" >4</text>
<text x="472.8" y="490.9" font-size="12" font-weight="400" text-anchor="middle" fill="#000" >6</text>
<text x="542.8" y="490.9" font-size="12" font-weight="400" text-anchor="middle" fill="#000" >8</text>
<text x="448.2" y="509.1" font-size="12" font-weight="400" text-anchor="middle" fill="#000" >Frequency (Hz)</text>
<text x="0" y="0" font-size="12" font-weight="400" text-anchor="middle" fill="#000" transform="translate(306.8 393.2) rotate(-90)">Power (a.u.)</text>
<text x="460.0" y="340.4" font-size="10.8" font-weight="700" text-anchor="start" fill="#2020c4" >Sound Envelope</text>
<text x="460.0" y="353.1" font-size="10.8" font-weight="700" text-anchor="start" fill="#179020" >Lip Movements</text>
</svg>
</body></html>
